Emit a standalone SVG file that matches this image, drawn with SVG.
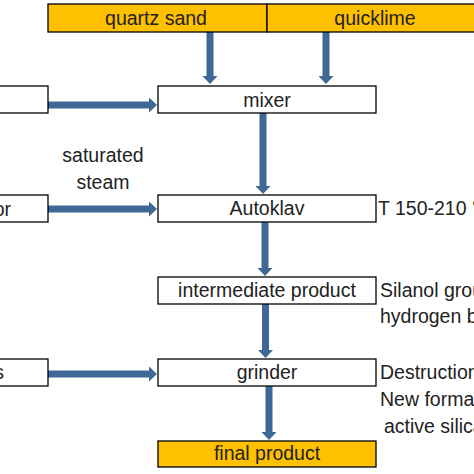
<svg xmlns="http://www.w3.org/2000/svg" width="474" height="474" viewBox="0 0 474 474">
<defs>
<style>
.box{fill:#fff;stroke:#000;stroke-width:1.3}
.inp{fill:#FFC000;stroke:#000;stroke-width:1.3}
text{font-family:"Liberation Sans",Arial,sans-serif;font-size:19.5px;fill:#222}
.c{text-anchor:middle}
.e{text-anchor:end}
.arr{stroke:#3E6896;stroke-width:7;fill:none}
</style>
<marker id="ah" viewBox="0 0 8 15" markerUnits="userSpaceOnUse" markerWidth="8" markerHeight="15" refX="0" refY="7.5" orient="auto">
<path d="M0,0 L8,7.5 L0,15 Z" fill="#3E6896"/>
</marker>
</defs>
<rect width="474" height="474" fill="#fff"/>
<g id="connectors">
<line class="arr" x1="210" y1="32" x2="210" y2="76" marker-end="url(#ah)"/>
<line class="arr" x1="326" y1="32" x2="326" y2="76" marker-end="url(#ah)"/>
<line class="arr" x1="263" y1="113" x2="263" y2="186" marker-end="url(#ah)"/>
<line class="arr" x1="265" y1="222" x2="265" y2="268" marker-end="url(#ah)"/>
<line class="arr" x1="265.5" y1="304" x2="265.5" y2="350" marker-end="url(#ah)"/>
<line class="arr" x1="269" y1="386" x2="269" y2="432" marker-end="url(#ah)"/>
<line class="arr" x1="48" y1="105" x2="149" y2="105" marker-end="url(#ah)"/>
<line class="arr" x1="48" y1="209" x2="149" y2="209" marker-end="url(#ah)"/>
<line class="arr" x1="48" y1="374" x2="149" y2="374" marker-end="url(#ah)"/>
</g>
<g id="quartz-sand">
<rect class="inp" x="48" y="4" width="219" height="28"/>
<text class="c" x="156" y="25">quartz sand</text>
</g>
<g id="quicklime">
<rect class="inp" x="267" y="4" width="210" height="28"/>
<text class="c" x="375" y="25">quicklime</text>
</g>
<g id="left-input-1">
<rect class="box" x="-5" y="86" width="53" height="27"/>
</g>
<g id="mixer">
<rect class="box" x="158" y="86" width="218" height="27"/>
<text class="c" x="267" y="107">mixer</text>
</g>
<g id="steam-label">
<text class="c" x="103" y="162">saturated</text>
<text class="c" x="103" y="189">steam</text>
</g>
<g id="left-input-2">
<rect class="box" x="-5" y="195" width="53" height="27"/>
<text class="e" x="11" y="216">or</text>
</g>
<g id="autoklav">
<rect class="box" x="158" y="195" width="218" height="27"/>
<text class="c" x="267" y="215">Autoklav</text>
<text x="378" y="215">T 150-210 °C</text>
</g>
<g id="intermediate-product">
<rect class="box" x="158" y="277" width="218" height="27"/>
<text class="c" x="267" y="297">intermediate product</text>
<text x="380" y="297">Silanol grou</text>
<text x="380" y="323">hydrogen b</text>
</g>
<g id="left-input-3">
<rect class="box" x="-5" y="359" width="53" height="27"/>
<text class="e" x="4" y="379">s</text>
</g>
<g id="grinder">
<rect class="box" x="158" y="359" width="218" height="27"/>
<text class="c" x="267" y="379">grinder</text>
<text x="380" y="379">Destruction</text>
<text x="380" y="406">New forma</text>
<text x="384" y="433">active silica</text>
</g>
<g id="final-product">
<rect class="inp" x="158" y="441" width="218" height="26"/>
<text class="c" x="267" y="460">final product</text>
</g>
</svg>
